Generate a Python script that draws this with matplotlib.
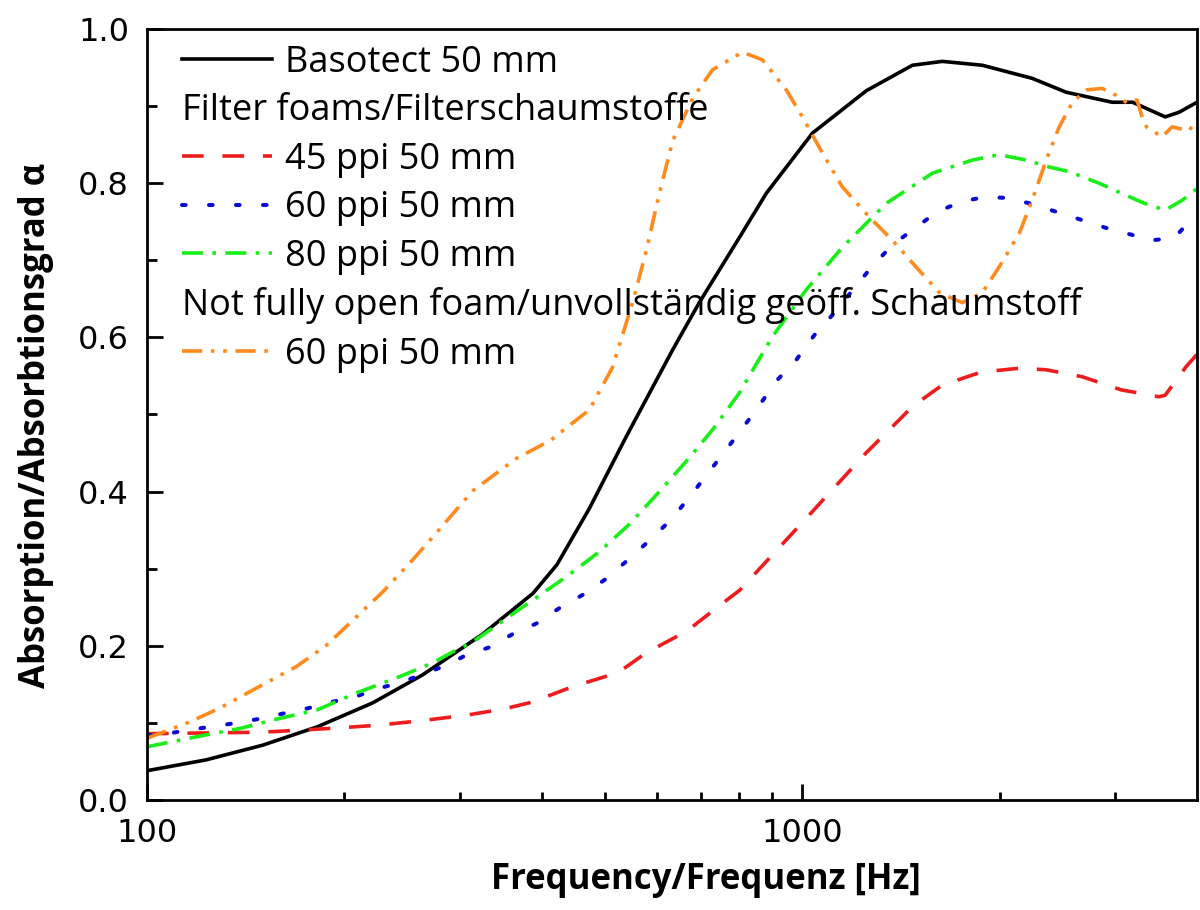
import matplotlib
matplotlib.use("Agg")
import matplotlib.pyplot as plt
from matplotlib.lines import Line2D
from matplotlib.ticker import FixedLocator, NullFormatter, FixedFormatter, MultipleLocator

# ---------------- data ----------------
f_bas = [100, 123, 150, 182, 221, 263, 300, 325, 388, 422, 473, 539, 634, 697, 802, 881,
         1036, 1252, 1472, 1635, 1881, 2242, 2526, 2969, 3190, 3577, 3756, 4000]
a_bas = [0.038, 0.052, 0.071, 0.095, 0.126, 0.162, 0.195, 0.215, 0.268, 0.305, 0.378, 0.472,
         0.584, 0.646, 0.730, 0.787, 0.865, 0.920, 0.953, 0.958, 0.953, 0.936, 0.918, 0.905,
         0.905, 0.886, 0.892, 0.905]

f_45 = [100, 125, 150, 175, 200, 225, 263, 307, 350, 387, 446, 500, 531, 578, 666, 755, 802,
        1000, 1250, 1405, 1470, 1633, 1874, 2142, 2355, 2672, 3063, 3500, 3577, 3850, 4000]
a_45 = [0.086, 0.087, 0.088, 0.091, 0.094, 0.097, 0.103, 0.110, 0.118, 0.127, 0.147, 0.160,
        0.169, 0.191, 0.219, 0.255, 0.272, 0.360, 0.450, 0.493, 0.510, 0.538, 0.555, 0.560,
        0.558, 0.549, 0.532, 0.523, 0.525, 0.562, 0.578]

f_60 = [100, 109, 118, 128, 139, 150, 163, 176, 191, 208, 224, 243, 263, 285, 307, 333, 361,
        393, 426, 462, 502, 541, 585, 631, 677, 721, 766, 840, 916, 979, 1043, 1111, 1190,
        1274, 1372, 1492, 1606, 1748, 1894, 2047, 2218, 2482, 2906, 3416, 3690, 3945, 4000]
a_60 = [0.084, 0.087, 0.092, 0.096, 0.101, 0.106, 0.113, 0.119, 0.127, 0.134, 0.144, 0.152,
        0.163, 0.174, 0.188, 0.198, 0.215, 0.229, 0.249, 0.266, 0.287, 0.311, 0.337, 0.364,
        0.396, 0.426, 0.455, 0.500, 0.545, 0.571, 0.603, 0.629, 0.660, 0.691, 0.720, 0.743,
        0.763, 0.776, 0.782, 0.781, 0.774, 0.761, 0.742, 0.726, 0.729, 0.755, 0.760]

f_80 = [100, 119, 139, 156, 182, 209, 243, 273, 300, 314, 374, 437, 490, 545, 605, 666, 729,
        800, 900, 1014, 1151, 1343, 1579, 1817, 1995, 2195, 2380, 2553, 2836, 3030, 3300,
        3577, 3800, 4000]
a_80 = [0.069, 0.082, 0.093, 0.104, 0.117, 0.139, 0.160, 0.178, 0.197, 0.205, 0.250, 0.290,
        0.322, 0.358, 0.400, 0.440, 0.480, 0.527, 0.601, 0.662, 0.717, 0.774, 0.813, 0.830,
        0.837, 0.830, 0.821, 0.815, 0.800, 0.789, 0.775, 0.765, 0.778, 0.793]

f_nf = [100, 116, 129, 152, 169, 188, 206, 229, 254, 280, 314, 366, 412, 473, 513, 551, 578,
        605, 634, 680, 729, 810, 869, 945, 1000, 1073, 1151, 1265, 1372, 1492, 1618, 1754,
        1881, 1995, 2142, 2242, 2355, 2465, 2583, 2714, 2866, 3011, 3130, 3240, 3300, 3350,
        3538, 3664, 3890, 4000]
a_nf = [0.080, 0.101, 0.119, 0.152, 0.173, 0.201, 0.233, 0.270, 0.311, 0.352, 0.401, 0.443,
        0.466, 0.506, 0.561, 0.646, 0.713, 0.787, 0.855, 0.910, 0.947, 0.970, 0.960, 0.921,
        0.886, 0.839, 0.795, 0.756, 0.726, 0.691, 0.658, 0.645, 0.658, 0.691, 0.735, 0.778,
        0.830, 0.873, 0.905, 0.921, 0.923, 0.914, 0.904, 0.908, 0.885, 0.873, 0.860, 0.873,
        0.868, 0.883]

labels = ["Basotect 50 mm",
          "Filter foams/Filterschaumstoffe",
          "45 ppi 50 mm",
          "60 ppi 50 mm",
          "80 ppi 50 mm",
          "Not fully open foam/unvollständig geöff. Schaumstoff",
          "60 ppi 50 mm"]
x_major = [100, 1000]
x_major_labels = ["100", "1000"]
x_minor = [200, 300, 400, 500, 600, 700, 800, 900, 2000, 3000]

# ---------------- styles ----------------
c_black = "#000000"
c_red = "#ee1c1c"
c_blue = "#0a0ad8"
c_green = "#19ee19"
c_orange = "#ff8a1e"
LW = 2.6
d_red = (6.0, 5.2)
d_blue = (0.9, 5.8)
d_green = (5.8, 2.6, 1.0, 2.6)
d_orange = (5.6, 2.4, 1.0, 2.4, 1.0, 2.4)

fig = plt.figure(figsize=(12, 9.1), dpi=100)
ax = fig.add_axes([147 / 1200, 110 / 910, 1050 / 1200, 771 / 910])

ax.plot(f_bas, a_bas, color=c_black, lw=LW, solid_capstyle="round", solid_joinstyle="round")
ax.plot(f_45, a_45, color=c_red, lw=LW, dashes=d_red)
ax.plot(f_60, a_60, color=c_blue, lw=LW + 0.3, dashes=d_blue, dash_capstyle="round")
ax.plot(f_80, a_80, color=c_green, lw=LW, dashes=d_green)
ax.plot(f_nf, a_nf, color=c_orange, lw=LW, dashes=d_orange)

ax.set_xscale("log")
ax.set_xlim(100, 4000)
ax.set_ylim(0.0, 1.0)

ax.xaxis.set_major_locator(FixedLocator(x_major))
ax.xaxis.set_major_formatter(FixedFormatter(x_major_labels))
ax.xaxis.set_minor_locator(FixedLocator(x_minor))
ax.xaxis.set_minor_formatter(NullFormatter())
ax.yaxis.set_major_locator(MultipleLocator(0.2))
ax.yaxis.set_minor_locator(MultipleLocator(0.1))
ax.yaxis.set_major_formatter(matplotlib.ticker.FormatStrFormatter("%.1f"))

ax.tick_params(axis="both", which="both", direction="in", top=False, right=False,
               width=2.0, colors="black")
ax.tick_params(axis="both", which="major", length=11.5, labelsize=23, pad=13)
ax.tick_params(axis="x", which="minor", length=6)
ax.tick_params(axis="y", which="minor", length=7)
for lab in ax.get_xticklabels() + ax.get_yticklabels():
    lab.set_family("DejaVu Sans")
for sp in ax.spines.values():
    sp.set_linewidth(2.0)

ax.set_xlabel("Frequency/Frequenz [Hz]", fontsize=25, fontweight="bold",
              family="Open Sans")
ax.xaxis.set_label_coords((706 - 147) / 1050, (800 - 862) / 771)
ax.set_ylabel("Absorption/Absorbtionsgrad α", fontsize=25, fontweight="bold",
              family="Open Sans")
ax.yaxis.set_label_coords((54 - 147) / 1050, (800 - 425) / 771)

# ---------------- legend ----------------
blank = Line2D([], [], color="none", lw=0)
handles = [
    Line2D([], [], color=c_black, lw=LW),
    blank,
    Line2D([], [], color=c_red, lw=LW, dashes=d_red),
    Line2D([], [], color=c_blue, lw=LW + 0.3, dashes=d_blue, dash_capstyle="round"),
    Line2D([], [], color=c_green, lw=LW, dashes=d_green),
    blank,
    Line2D([], [], color=c_orange, lw=LW, dashes=d_orange),
]
LFS = 26
hl = 90 / (LFS * 100 / 72)
htp = 13 / (LFS * 100 / 72)
leg = ax.legend(handles, labels, loc="upper left",
                bbox_to_anchor=((182 - 147) / 1050, (800 - 45) / 771),
                frameon=False, prop={"family": "Open Sans", "size": LFS},
                handlelength=hl, handletextpad=htp, labelspacing=0.345,
                borderaxespad=0.0, borderpad=0.0)
shift_px = (hl + htp) * LFS * 100 / 72
for i in (1, 5):
    leg.get_texts()[i].set_x(-shift_px)

fig.savefig("out.png", dpi=100, facecolor="white")
